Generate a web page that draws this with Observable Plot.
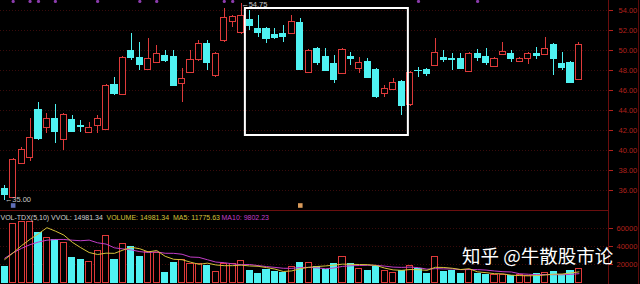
<!DOCTYPE html>
<html><head><meta charset="utf-8">
<script src="https://cdn.jsdelivr.net/npm/d3@7"></script>
<script src="https://cdn.jsdelivr.net/npm/@observablehq/plot@0.6"></script>
<style>
html,body{margin:0;padding:0;background:#000;}
#wrap{position:relative;width:640px;height:284px;background:#000;overflow:hidden;}
#wrap svg{display:block;}
#edge{position:absolute;left:638px;top:0;width:1px;height:284px;background:#5a0c0c;}
#wm{position:absolute;left:462px;top:246px;font-family:"Noto Sans CJK SC";font-size:18.5px;line-height:19px;color:#fff;white-space:nowrap;}
</style></head><body>
<div id="wrap"></div>
<script>
// ---- data ----
const open  = [36.2,35.3,38.7,39.3,44.1,42.3,43.2,41.1,43.1,42.45,41.8,42.5,42.1,46.6,45.6,50.0,49.3,48.1,48.8,49.5,49.4,46.7,47.8,49.1,50.7,47.5,51.0,52.9,51.8,53.1,52.2,52.2,51.6,51.7,51.7,52.8,47.8,50.2,49.4,48.7,47.7,49.4,48.2,48.9,48.1,45.7,46.1,46.9,44.6,48.0,48.1,48.5,49.3,49.2,49.2,47.9,49.7,49.4,48.4,49.6,49.7,48.9,49.2,49.7,49.6,50.6,48.7,48.8,47.1];
const close = [35.6,39.1,40.1,41.3,41.2,43.2,41.9,43.6,41.9,42.35,42.3,43.2,46.5,45.7,49.3,49.3,48.6,49.2,49.7,49.0,46.5,47.2,49.1,50.7,48.8,49.7,53.3,53.4,53.5,52.5,51.8,51.2,51.3,51.4,52.9,48.1,50.0,48.8,48.0,47.1,50.1,49.2,48.8,47.3,45.4,46.2,46.8,44.5,47.8,47.95,47.7,49.8,49.1,49.1,48.2,49.7,49.3,48.8,49.2,49.9,49.2,49.2,49.7,49.5,50.2,49.2,48.3,46.8,50.6];
const high  = [36.5,39.2,40.3,43.2,44.8,43.7,44.6,43.7,43.5,43.0,42.8,43.5,46.6,47.3,49.4,51.7,50.8,51.2,50.5,50.0,50.0,48.2,50.0,51.0,51.0,49.8,54.2,53.5,54.75,54.0,53.5,52.3,52.2,52.5,53.5,53.2,50.1,50.3,50.2,49.5,50.2,49.8,49.3,49.2,48.2,46.5,47.2,47.0,47.9,48.3,48.2,51.2,50.0,49.7,49.7,49.8,50.1,50.2,49.3,50.8,50.0,49.3,49.8,50.3,51.3,50.7,49.8,48.9,50.8];
const low   = [35.0,35.2,38.6,38.9,41.0,41.7,40.7,40.0,41.8,41.8,41.7,41.7,42.0,45.5,45.5,49.0,48.0,48.0,48.7,48.8,46.4,44.8,47.7,48.9,48.0,47.3,50.8,52.3,51.6,52.0,51.3,50.7,51.1,50.8,51.6,48.0,47.7,48.5,47.9,46.7,47.6,48.5,47.7,47.2,45.2,45.3,46.0,43.5,44.4,47.3,47.4,48.4,48.8,48.0,48.1,47.8,48.9,48.5,48.3,49.5,48.8,48.8,48.6,49.1,49.5,47.5,48.0,46.7,47.0];
const volume = [16700,65500,66700,66700,55500,50000,46700,44400,26700,25500,23300,35500,52200,25500,43300,38900,27800,34400,33300,11100,22200,25500,21100,21100,17800,12200,21100,21100,24400,13300,10000,14400,12200,11100,16700,22200,22200,16700,14400,21100,27800,21100,15500,13300,16700,13300,11100,13300,17800,15500,10000,27800,12200,13300,8900,14400,10000,7800,7800,8000,6700,8000,6700,9000,11000,12000,8500,12400,14981.34];
const ma5 = [25500,33000,41000,48000,54200,60900,57100,52700,44700,38700,33300,31100,32600,32400,36000,39100,37500,34000,35500,29100,25800,25300,22600,20200,21500,19500,18700,18700,19300,18400,18000,16600,14900,12200,12900,15300,16900,17800,18400,19300,20400,20200,20000,19800,18900,16000,14000,13500,14400,14200,13500,16900,16700,15800,14400,15300,11800,10900,9800,9600,8100,7700,7400,7700,8300,9300,9400,10600,11775.63];
const ma10 = [27000,33000,38000,42000,45000,47000,47800,47800,47000,46400,47100,44100,42700,38500,37300,36200,34300,33300,34000,32500,32400,31400,28300,27900,25300,22700,22000,20700,19800,20000,18800,17700,16800,15800,15700,16700,16800,16300,15300,16100,17900,18600,18900,19100,19100,18200,17100,16800,17100,16500,14800,15400,15100,15100,14300,14400,14300,13800,12800,12000,11700,9700,9200,8700,8900,8700,8600,9000,9802.23];
const priceTicks = [54,52,50,48,46,44,42,40,38,36];
const volTicks = [60000,40000,20000];
const signalDays = [1,3,4,6,11,16,18,26,27,49,56];
const highlight = [{from: 28.5, to: 47.8, top: 54.2, bottom: 41.5}];
const slots = 72;
const indicatorName = "VOL-TDX(5,10)";

// ---- styles ----
const RED = "#de3a3a", CYAN = "#4ff2f2", AXIS = "#b2201c", FRAME = "#6a0e0e", GRID = "#3a0b0b";
const YELLOW = "#d6c23a", MAGENTA = "#c23ec8";
const FONT = "Liberation Sans, Arial, sans-serif";
const HW = 0.36;

const candles = open.map((o, i) => ({i, o, c: close[i], h: high[i], l: low[i], v: volume[i]}));
const up = candles.filter(d => d.c >= d.o);
const down = candles.filter(d => d.c < d.o);
const hiIdx = d3.maxIndex(high), loIdx = d3.minIndex(low);
const ma5Data = ma5.map((v, i) => ({i, v}));
const ma10Data = ma10.map((v, i) => ({i, v}));
const last = volume.length - 1;

const xScale = {type: "linear", domain: [-0.5, slots - 0.5], axis: null};

const price = Plot.plot({
  width: 640, height: 210,
  marginLeft: 0, marginRight: 32, marginTop: 0, marginBottom: 0,
  x: xScale,
  y: {domain: [34, 55]},
  style: {background: "#000", fontFamily: FONT, overflow: "visible"},
  marks: [
    Plot.ruleY(priceTicks, {stroke: GRID, strokeDasharray: "1,2"}),
    Plot.frame({anchor: "right", stroke: FRAME}),
    Plot.frame({anchor: "bottom", stroke: FRAME}),
    Plot.axisY(priceTicks, {anchor: "right", tickFormat: d => d.toFixed(2), tickSize: 4, tickPadding: 6, color: AXIS, fontSize: 7.5, label: null}),
    Plot.ruleX(up, {x: "i", y1: "l", y2: "h", stroke: RED, shapeRendering: "crispEdges"}),
    Plot.ruleX(down, {x: "i", y1: "l", y2: "h", stroke: CYAN, shapeRendering: "crispEdges"}),
    Plot.rect(up, {x1: d => d.i - HW, x2: d => d.i + HW, y1: "o", y2: "c", fill: "#000", stroke: RED, shapeRendering: "crispEdges"}),
    Plot.rect(down, {x1: d => d.i - HW, x2: d => d.i + HW, y1: "o", y2: "c", fill: CYAN, stroke: CYAN, shapeRendering: "crispEdges"}),
    Plot.rect(highlight, {x1: "from", x2: "to", y1: "bottom", y2: "top", fill: "none", stroke: "#fff", strokeWidth: 2}),
    Plot.dot(signalDays, {x: d => d, frameAnchor: "top", dy: 1, r: 1.6, fill: "#8c3cae", stroke: "none"}),
    Plot.text([hiIdx], {x: d => d, y: d => high[d], text: d => "←" + high[d].toFixed(2), textAnchor: "start", dx: 0, dy: 2, fill: "#c8c8c8", fontSize: 7.5}),
    Plot.text([loIdx], {x: d => d, y: d => low[d], text: d => "←" + low[d].toFixed(2), textAnchor: "start", dx: 0, dy: -1, fill: "#c8c8c8", fontSize: 7.5}),
    Plot.dot([1], {x: d => d, frameAnchor: "bottom", dy: -5, symbol: "square", r: 2.6, fill: "#5f6fb8"}),
    Plot.dot([35], {x: d => d, frameAnchor: "bottom", dy: -5, symbol: "square", r: 2.6, fill: "#d89a5a"})
  ]
});

const vol = Plot.plot({
  width: 640, height: 74,
  marginLeft: 0, marginRight: 32, marginTop: 0, marginBottom: 0,
  x: xScale,
  y: {domain: [-2222, 80000]},
  style: {background: "#000", fontFamily: FONT, overflow: "visible"},
  marks: [
    Plot.ruleY(volTicks, {stroke: GRID, strokeDasharray: "1,2"}),
    Plot.frame({anchor: "right", stroke: FRAME}),
    Plot.axisY(volTicks, {anchor: "right", tickFormat: d => String(d), tickSize: 4, tickPadding: 4, color: AXIS, fontSize: 7.5, label: null}),
    Plot.rect(up, {x1: d => d.i - HW, x2: d => d.i + HW, y1: 0, y2: "v", fill: "#000", stroke: RED, shapeRendering: "crispEdges"}),
    Plot.rect(down, {x1: d => d.i - HW, x2: d => d.i + HW, y1: 0, y2: "v", fill: CYAN, stroke: CYAN, shapeRendering: "crispEdges"}),
    Plot.line(ma10Data, {x: "i", y: "v", stroke: MAGENTA, strokeWidth: 1}),
    Plot.line(ma5Data, {x: "i", y: "v", stroke: YELLOW, strokeWidth: 1}),
    Plot.text([`${indicatorName} VVOL: ${volume[last].toFixed(2)}`], {frameAnchor: "top-left", textAnchor: "start", dy: 4.5, fill: "#d0d0d0", fontSize: 7}),
    Plot.text([`VOLUME: ${volume[last].toFixed(2)}  MA5: ${ma5[last].toFixed(2)}`], {frameAnchor: "top-left", textAnchor: "start", dx: 106, dy: 4.5, fill: YELLOW, fontSize: 7}),
    Plot.text([`MA10: ${ma10[last].toFixed(2)}`], {frameAnchor: "top-left", textAnchor: "start", dx: 221, dy: 4.5, fill: MAGENTA, fontSize: 7})
  ]
});

const wrap = document.getElementById("wrap");
wrap.appendChild(price);
wrap.appendChild(vol);
const edge = document.createElement("div"); edge.id = "edge"; wrap.appendChild(edge);
const wm = document.createElement("div"); wm.id = "wm"; wm.textContent = "知乎 @牛散股市论"; wrap.appendChild(wm);
</script>
</body></html>
